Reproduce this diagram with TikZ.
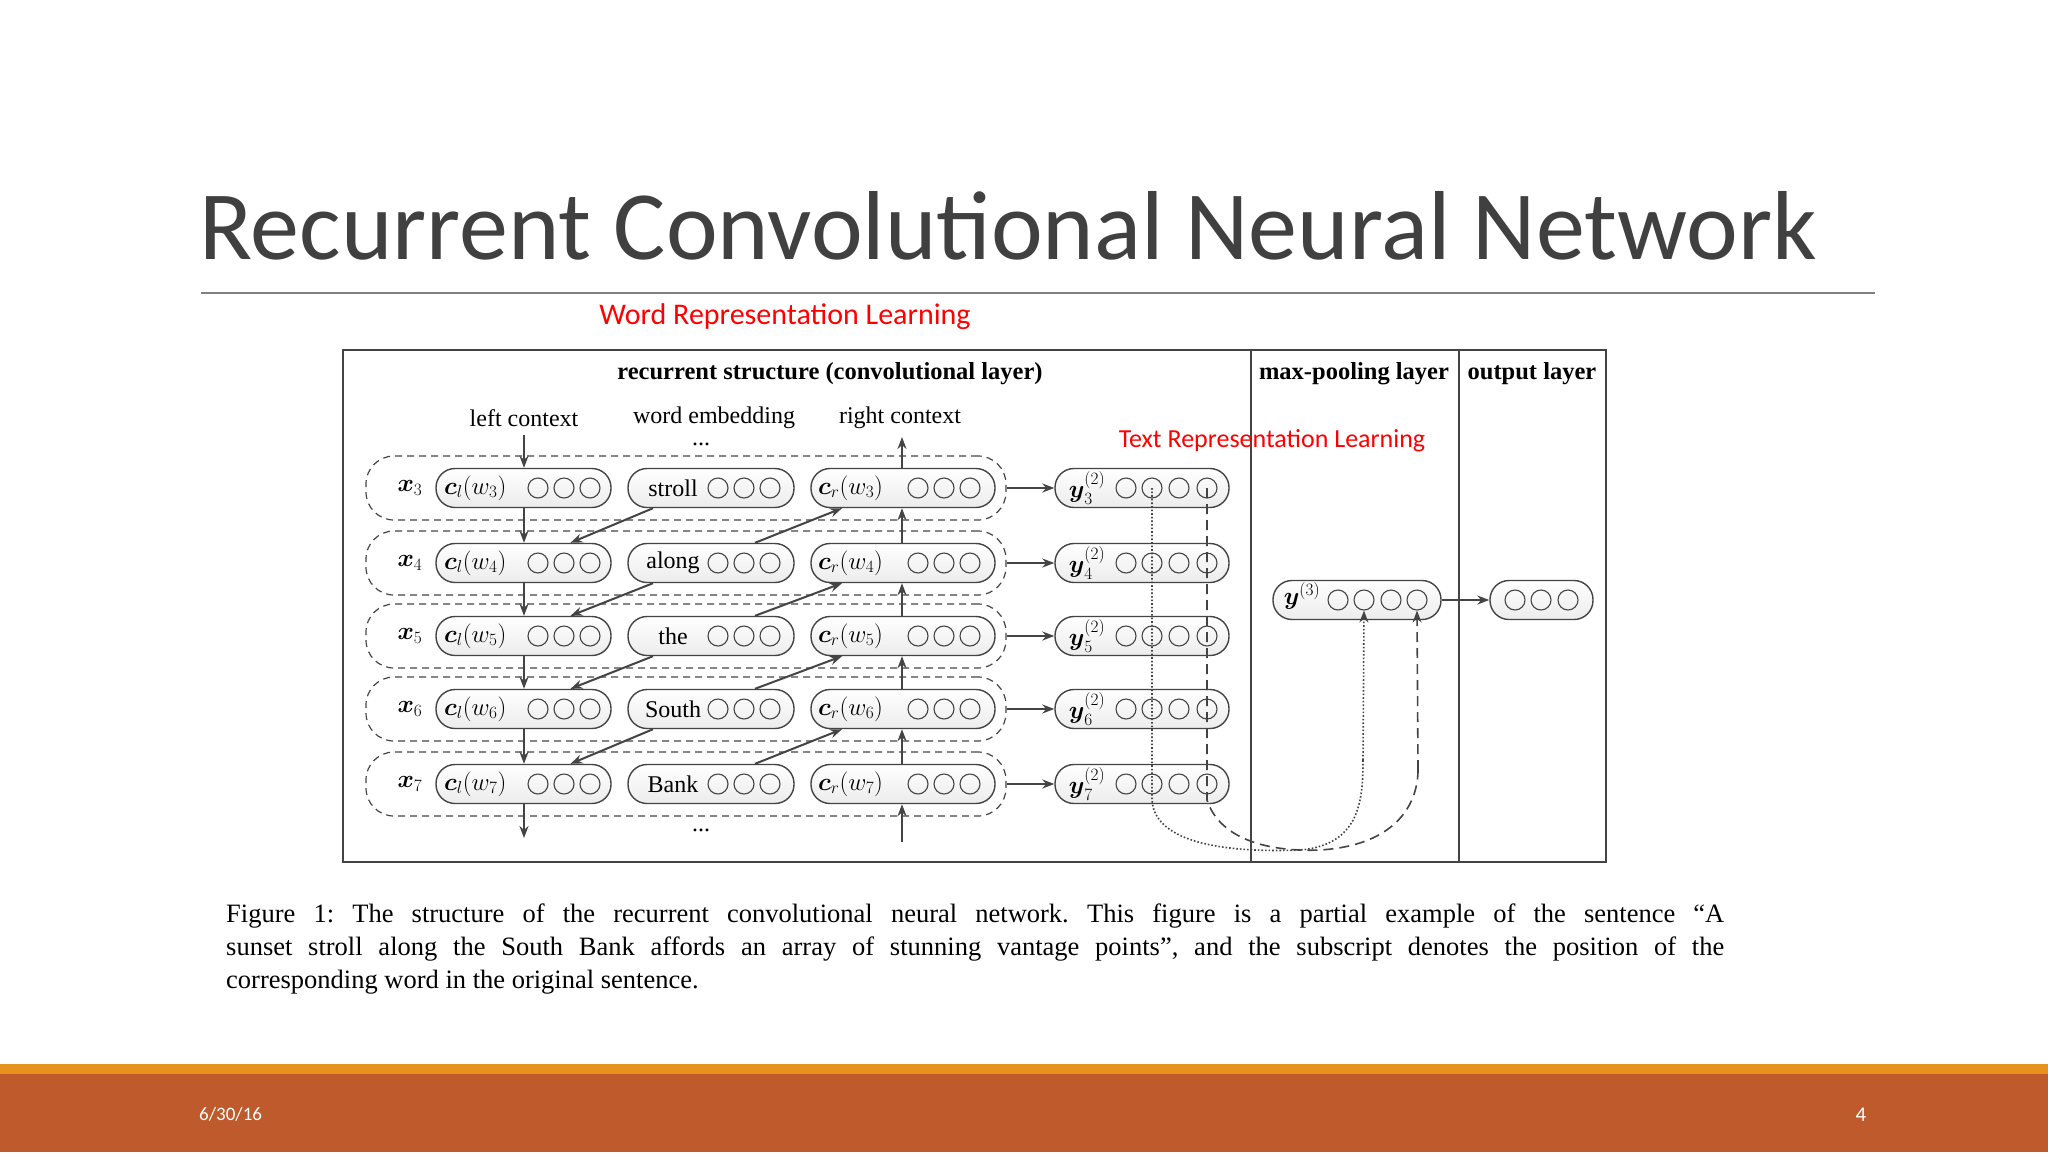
\documentclass[tikz,border=0pt]{standalone}
\usepackage{amsmath}
\usepackage{fontspec}
\setmainfont{Liberation Serif}
\newfontfamily\calfont{Carlito}
\usetikzlibrary{arrows.meta}
\definecolor{ln}{HTML}{444444}
\definecolor{barb}{HTML}{BE5A2C}
\definecolor{baro}{HTML}{E8921E}
\tikzset{
 pill/.style={draw=ln,line width=1.4pt,rounded corners=19pt,top color=white,bottom color=gray!15,minimum height=39pt,inner sep=0pt},
 enc/.style={draw=ln,dashed,dash pattern=on 7pt off 5pt,line width=1.2pt,rounded corners=28pt,minimum width=640pt,minimum height=64pt,inner sep=0pt},
 cc/.style={draw=ln,line width=1.1pt,circle,minimum size=20pt,inner sep=0pt},
 arr/.style={draw=ln,line width=2pt,-{Stealth[length=12pt,width=9pt]}},
 lab/.style={font=\fontsize{24}{26}\selectfont,inner sep=0pt},
 mlab/.style={font=\fontsize{27}{29}\selectfont,inner sep=0pt},
 hdr/.style={font=\bfseries\fontsize{24.5}{26}\selectfont,inner sep=0pt},
}
\begin{document}
\begin{tikzpicture}[x=1pt,y=-1pt]
\useasboundingbox (0,0) rectangle (2048,1152);
\fill[white] (0,0) rectangle (2048,1152);
% title
\node[font=\calfont\fontsize{98}{100}\selectfont,text=black!75,anchor=west,inner sep=0pt] (title) at (199,226) {Recurrent Convolutional Neural Network};
\draw[gray,line width=1.5pt] (201,293) -- (1875,293);
\node[font=\calfont\fontsize{30}{32}\selectfont,text=red] (wrl) at (785,317) {Word Representation Learning};
% frame
\draw[ln,line width=1.5pt] (343,350) rectangle (1606,862);
\draw[ln,line width=1.3pt] (1251,350) -- (1251,862);
\draw[ln,line width=1.3pt] (1459,350) -- (1459,862);
\node[hdr] (h1) at (830,374) {recurrent structure (convolutional layer)};
\node[hdr] (h2) at (1354,374) {max-pooling layer};
\node[hdr] (h3) at (1532,374) {output layer};
\node[lab] (lc) at (524,418) {left context};
\node[lab] (we) at (714,418) {word embedding};
\node[lab] (rc) at (900,418) {right context};
\node[lab] (dt) at (701,444) {...};
\node[lab] (db) at (701,830) {...};
\node[font=\calfont\fontsize{26}{28}\selectfont,text=red] (trl) at (1272,441) {Text Representation Learning};
% rows
\foreach \i/\y/\w in {3/488/stroll,4/563/along,5/636/the,6/709/South,7/784/Bank}{
 \node[enc] (e\i) at (686,\y) {};
 \node[mlab] (x\i) at (410,\y) {$\boldsymbol{x}_{\i}$};
 \node[pill,minimum width=175pt] (l\i) at (523.5,\y) {};
 \node[mlab,anchor=west] (ll\i) at (444,\y) {$\boldsymbol{c}_l(w_{\i})$};
 \node[pill,minimum width=166pt] (w\i) at (711,\y) {};
 \node[lab] (ww\i) at (673,\y) {\w};
 \node[pill,minimum width=184pt] (r\i) at (903,\y) {};
 \node[mlab,anchor=west] (rr\i) at (818,\y) {$\boldsymbol{c}_r(w_{\i})$};
 \foreach \cx/\k in {538/a,564/b,590/c}{\node[cc] (l\i\k) at (\cx,\y) {};}
 \foreach \cx/\k in {718/a,744/b,770/c}{\node[cc] (w\i\k) at (\cx,\y) {};}
 \foreach \cx/\k in {918/a,944/b,970/c}{\node[cc] (r\i\k) at (\cx,\y) {};}
 \node[pill,minimum width=174pt] (y\i) at (1142,\y) {};
 \node[mlab] (yy\i) at (1087,\y) {$\boldsymbol{y}_{\i}^{(2)}$};
 \foreach \cx/\k in {1126/a,1152/b,1179/c,1207/d}{\node[cc] (y\i\k) at (\cx,\y) {};}
 \draw[arr] (e\i.east) -- (y\i.west);
}
% vertical arrows
\coordinate (lt) at (524,435); \coordinate (lb) at (524,838);
\coordinate (rt) at (902,437); \coordinate (rb) at (902,842);
\draw[arr] (lt) -- (l3.north -| lt);
\draw[arr] (l7.south -| lt) -- (lb);
\draw[arr] (rb) -- (r7.south -| rb);
\draw[arr] (r3.north -| rt) -- (rt);
\foreach \a/\b in {3/4,4/5,5/6,6/7}{
 \draw[arr] (l\a.south -| lt) -- (l\b.north -| lt);
 \draw[arr] (r\b.north -| rt) -- (r\a.south -| rt);
 \draw[arr] ([xshift=-58pt]w\a.south) -- ([xshift=47pt]l\b.north);
 \draw[arr] ([xshift=44pt]w\b.north) -- ([xshift=-61pt]r\a.south);
}
% pooling
\node[pill,minimum width=168pt] (p) at (1357,600) {};
\node[mlab] (pp) at (1302,596) {$\boldsymbol{y}^{(3)}$};
\foreach \cx/\k in {1338/a,1364/b,1391/c,1417/d}{\node[cc] (p\k) at (\cx,600) {};}
\node[pill,minimum width=103pt] (o) at (1541.5,600) {};
\foreach \cx/\k in {1515/a,1541/b,1568/c}{\node[cc] (o\k) at (\cx,600) {};}
\draw[arr] (p.east) -- (o.west);
\draw[ln,line width=1.6pt,dotted] (y3b.center) -- (1152,800) .. controls (1155,850) and (1250,852) .. (1300,850) .. controls (1360,845) and (1363,800) .. (1363,760);
\draw[arr,line width=1.6pt,dotted] (1363,760) -- (pb.south);
\draw[ln,line width=1.6pt,dash pattern=on 10pt off 6pt] (y3d.center) -- (1207,800) .. controls (1220,840) and (1270,852) .. (1320,850) .. controls (1400,845) and (1418,800) .. (1418,770);
\draw[arr,line width=1.6pt,dash pattern=on 10pt off 6pt] (1418,770) -- (pd.south);
% caption
\node[anchor=north west,inner sep=0pt,text width=1498pt,align=justify,font=\frenchspacing\fontsize{26.5}{33}\selectfont] (cap) at (226,904) {Figure 1: The structure of the recurrent convolutional neural network. This figure is a partial example of the sentence “A\linebreak sunset stroll along the South Bank affords an array of stunning vantage points”, and the subscript denotes the position of the\linebreak corresponding word in the original sentence.};
% bottom bar
\fill[baro] (0,1064) rectangle (2048,1074);
\fill[barb] (0,1074) rectangle (2048,1152);
\node[font=\calfont\fontsize{19}{21}\selectfont,text=white,anchor=west,inner sep=0pt] (date) at (199,1114) {6/30/16};
\node[font=\calfont\fontsize{21}{23}\selectfont,text=white,inner sep=0pt] (pg) at (1861,1115) {4};
\end{tikzpicture}
\end{document}
